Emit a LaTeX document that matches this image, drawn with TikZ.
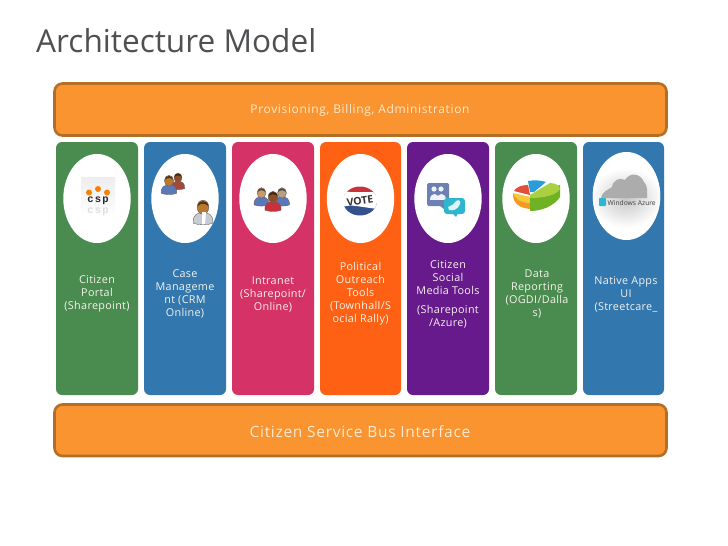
\documentclass[tikz,border=0pt]{standalone}
\usepackage{fontspec}
\setmainfont{Open Sans}
\newfontfamily\labfont[LetterSpace=3]{Open Sans}
\newfontfamily\topfont[LetterSpace=5.4]{Open Sans}
\newfontfamily\botfont[LetterSpace=4.5]{Open Sans}
\newfontfamily\cspfont[LetterSpace=12]{Liberation Mono}
\usetikzlibrary{shapes.geometric,calc}
\definecolor{barfill}{HTML}{F99430}
\definecolor{barline}{HTML}{B46F27}
\definecolor{pgreen}{HTML}{4A8C50}
\definecolor{pblue}{HTML}{3277AE}
\definecolor{ppink}{HTML}{D53368}
\definecolor{porange}{HTML}{FF6114}
\definecolor{ppurple}{HTML}{661A8C}
\definecolor{titlegrey}{HTML}{4F5052}
\definecolor{labeltext}{HTML}{F6F2EA}
\definecolor{bartext}{HTML}{FDE9CF}
\definecolor{slate}{HTML}{6C80B4}
\definecolor{teal2}{HTML}{2DB6CE}
\definecolor{skinA}{HTML}{B9792F}
\definecolor{skinB}{HTML}{8C4F28}
\definecolor{skinC}{HTML}{C99A6A}
\definecolor{skinD}{HTML}{B8A080}
\definecolor{shirtB}{HTML}{5B78B8}
\definecolor{shirtR}{HTML}{A5473A}
\definecolor{shirtF}{HTML}{C9303A}
\definecolor{shirtG}{HTML}{C8CCD0}
\definecolor{voteR}{HTML}{C8323A}
\definecolor{voteB}{HTML}{34508F}
\definecolor{lime}{HTML}{A8D040}
\definecolor{leaf}{HTML}{6FB224}
\definecolor{pieO}{HTML}{F59A1E}
\definecolor{pieY}{HTML}{F7C93C}
\definecolor{pieR}{HTML}{E2503C}
\definecolor{pieB}{HTML}{2A9CD8}
\tikzset{
  x=1pt,y=-1pt,
  bar/.style={draw=barline,line width=2.6pt,fill=barfill,rounded corners=8pt},
  panel/.style={rounded corners=6pt,fill=#1},
  iconoval/.style={fill=white,draw=none},
  lab/.style={text=labeltext,font=\labfont\fontsize{10.8}{13}\selectfont,align=center,inner sep=0pt,anchor=center},
  bartitle/.style={text=bartext,inner sep=0pt,anchor=center},
}
\newcommand{\person}[5]{% x y scale skin shirt
  \begin{scope}[shift={(#1,#2)},scale=#3]
    \fill[#5,draw=black!60,line width=.4pt] (-7,8) .. controls (-7.5,1) and (-3,0.5) .. (0,0.5) .. controls (3,0.5) and (7.5,1) .. (7,8) .. controls (3,9.5) and (-3,9.5) .. (-7,8) -- cycle;
    \fill[#4,draw=black!60,line width=.4pt] (0,-3.4) ellipse (4.2 and 5);
    \fill[black!55!#4] (-4,-4) .. controls (-3.5,-9) and (3.5,-9) .. (4,-4) .. controls (2,-6.5) and (-2,-6.5) .. (-4,-4) -- cycle;
  \end{scope}}
\begin{document}
\begin{tikzpicture}
\useasboundingbox (0,0) rectangle (728,546);
\fill[white] (0,0) rectangle (728,546);
\node[anchor=west,inner sep=0pt,text=titlegrey,font=\fontsize{31.6}{36}\selectfont] (title) at (36,41) {Architecture Model};

\draw[bar] (54.5,83.5) rectangle (666.5,135.5);
\node[bartitle,font=\topfont\fontsize{12}{14}\selectfont] (top) at (360,110) {Provisioning, Billing, Administration};
\draw[bar] (54.5,404.5) rectangle (666.5,456);
\node[bartitle,font=\botfont\fontsize{15.5}{18}\selectfont] (bottom) at (360,432) {Citizen Service Bus Interface};

\fill[panel=pgreen] (56,142) rectangle (138,395);
\fill[panel=pblue] (144,142) rectangle (226,395);
\fill[panel=ppink] (232,142) rectangle (314,395);
\fill[panel=porange] (320,142) rectangle (401,395);
\fill[panel=ppurple] (407,142) rectangle (489,395);
\fill[panel=pgreen] (495,142) rectangle (577,395);
\fill[panel=pblue] (583,142) rectangle (664,395);

\fill[iconoval] (97,198.5) ellipse (33.7 and 44.5);
\fill[iconoval] (185,198.5) ellipse (33.7 and 44.5);
\fill[iconoval] (273,198.5) ellipse (33.7 and 44.5);
\fill[iconoval] (360.5,198.5) ellipse (33.7 and 44.5);
\fill[iconoval] (448,198.5) ellipse (33.7 and 44.5);
\fill[iconoval] (536,198.5) ellipse (33.7 and 44.5);
\fill[iconoval] (626.5,196) ellipse (33.7 and 44);

\node[lab] (l1) at (97,294) {Citizen\\Portal\\(Sharepoint)};
\node[lab] (l2) at (185,294) {Case\\Manageme\\nt (CRM\\Online)};
\node[lab] (l3) at (273,294) {Intranet\\(Sharepoint/\\Online)};
\node[lab] (l4) at (360.5,294) {Political\\Outreach\\Tools\\(Townhall/S\\ocial Rally)};
\node[lab] (l5) at (448,294) {Citizen\\Social\\Media Tools\\[6pt](Sharepoint\\/Azure)};
\node[lab] (l6) at (537,294) {Data\\Reporting\\(OGDI/Dalla\\s)};
\node[lab] (l7) at (626,294) {Native Apps\\UI\\(Streetcare\_};

% icon 1
\shade[top color=black!7,bottom color=white] (81,177) rectangle (115,216);
\fill[orange!85!brown] (89,192.5) circle (3) (98,189) circle (3) (107,192.5) circle (3);
\node[inner sep=0pt,font=\cspfont\bfseries\fontsize{10.5}{10}\selectfont,text=black!85] (csp) at (98,201) {csp};
\node[inner sep=0pt,font=\cspfont\bfseries\fontsize{10.5}{10}\selectfont,text=black!13] (csp2) at (98,211.5) {csp};
% icon 2
\person{178}{181}{.95}{skinB}{shirtR}
\person{169}{184.5}{1.1}{skinA}{shirtB}
\person{203}{212}{1.4}{skinA}{shirtG}
\fill[white] (202,212) -- (206,212) -- (205,224) -- (202,224) -- cycle;
% icon 3
\person{261.5}{196.5}{1.05}{skinC}{shirtB}
\person{282}{196.5}{1.05}{skinD}{shirtB}
\person{273}{201}{1.15}{skinB}{shirtF}
% icon 4
\begin{scope}
  \clip (360,201) ellipse (17 and 14.5);
  \fill[voteR] (340,185) rectangle (380,196);
  \fill[white] (340,192) rectangle (380,212);
  \fill[voteB] (340,207) -- (380,202) -- (380,218) -- (340,218) -- cycle;
  \fill[white,rotate around={-8:(360,200)}] (340,193.5) rectangle (380,206.5);
\end{scope}
\node[inner sep=0pt,rotate=8,font=\bfseries\fontsize{10.5}{11}\selectfont,text=black!80] (vote) at (360,200.5) {VOTE};
% icon 5
\fill[slate,rounded corners=1.5pt] (427,183) rectangle (449,206);
\fill[slate] (439,205) -- (445,205) -- (445,210) -- cycle;
\fill[white!90!slate] (434,189) circle (2.6) (441,189) circle (2.6);
\fill[white!90!slate] (429.5,200) .. controls (429.5,192) and (438.5,192) .. (438.5,200) -- cycle;
\fill[white!90!slate] (436.5,200) .. controls (436.5,192) and (445.5,192) .. (445.5,200) -- cycle;
\fill[teal2,rounded corners=3pt] (444,198) rectangle (465,214);
\fill[teal2] (452,213) -- (458,213) -- (456,217) -- cycle;
\fill[white!85!teal2] (448,207) .. controls (452,205) and (455,204) .. (456,201) .. controls (459,199) and (461,201) .. (460,204) .. controls (458,210) and (452,211) .. (449,210) -- cycle;
% icon 6
\fill[pieO] (513,194) .. controls (513,204) and (520,208) .. (530,209) -- (530,197) -- cycle;
\fill[pieY] (513,193) -- (530,197) -- (530,203) .. controls (522,203) and (516,200) .. (513,193) -- cycle;
\fill[pieR] (514,191) .. controls (516,187) and (522,185) .. (528,185) -- (530,195) -- cycle;
\fill[pieB] (528,181) .. controls (534,180) and (540,180) .. (546,182) -- (534,192) -- (530,192) -- cycle;
\fill[leaf] (530,195) -- (560,185) -- (560,197) .. controls (554,206) and (542,211) .. (530,211) -- cycle;
\fill[lime] (530,195) -- (550,183) .. controls (556,183) and (560,186) .. (560,189) .. controls (556,196) and (542,198) .. (530,198) -- cycle;
% icon 7
\begin{scope}
  \clip (626.5,196) ellipse (33.7 and 44);
  \shade[inner color=gray!45,outer color=white] (626,198) ellipse (36 and 30);
  \fill[gray!65] (601,198) .. controls (603,190) and (609,190) .. (612,187) .. controls (613,180) and (620,177) .. (625,180) .. controls (630,172) and (640,173) .. (644,182) .. controls (648,186) and (647,192) .. (647,198) -- cycle;
\end{scope}
\fill[teal2,rounded corners=.8pt] (599,198) rectangle (606,206);
\node[inner sep=0pt,anchor=west,font=\fontsize{6.7}{8}\selectfont,text=black!75] (azure) at (607.5,202.5) {Windows Azure};
\end{tikzpicture}
\end{document}
